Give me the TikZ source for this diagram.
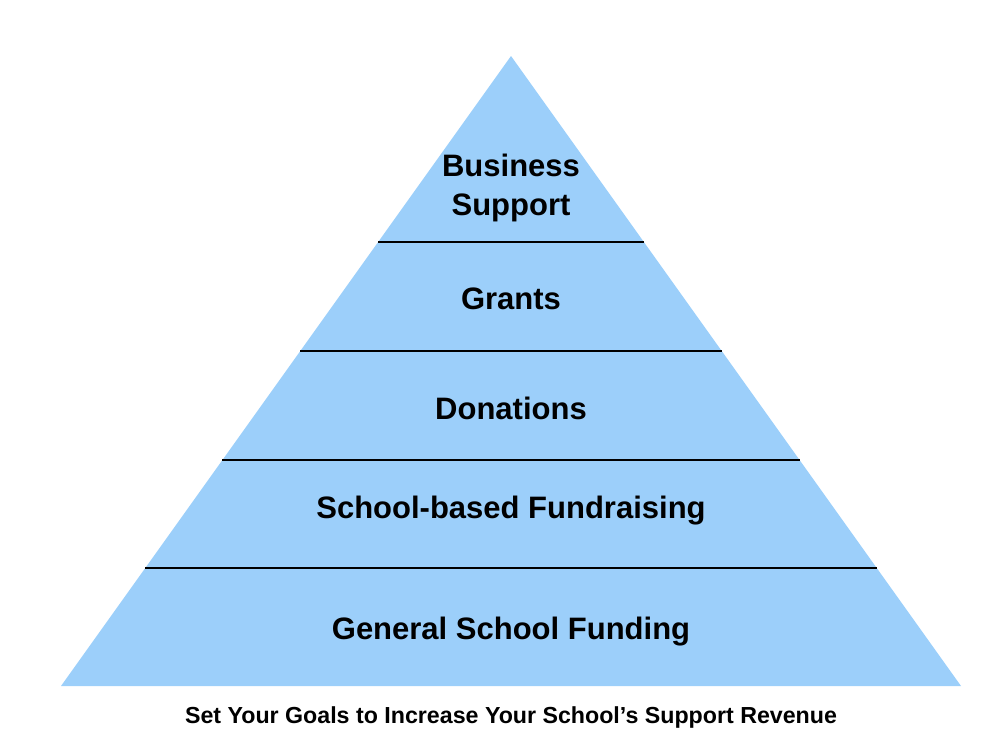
\documentclass[tikz,border=0pt]{standalone}
\usepackage{fontspec}
\setmainfont{Liberation Sans}
\definecolor{pyr}{HTML}{9CCFFA}
\begin{document}
\begin{tikzpicture}[x=1pt,y=-1pt,
  lbl/.style={font=\bfseries\fontsize{31}{39}\selectfont,align=center,inner sep=0pt},
  sep/.style={line width=2pt,black}]
\useasboundingbox (0,0) rectangle (1000,750);
\fill[pyr] (511,56) coordinate (apex) -- (961,686) coordinate (br) -- (61,686) coordinate (bl) -- cycle;
\foreach \y/\n in {242/a,351/b,460/c,568/d}{
  \pgfmathsetmacro{\dx}{(\y-56)*5/7}
  \coordinate (L\n) at ({511-\dx},\y);
  \coordinate (R\n) at ({511+\dx},\y);
  \draw[sep] (L\n) -- (R\n);
}
\node[lbl] (bus) at (511,188) {Business\\Support};
\node[lbl] (gra) at (511,299) {Grants};
\node[lbl] (don) at (511,408) {Donations};
\node[lbl] (sch) at (511,511) {School-based Fundraising};
\node[lbl] (gen) at (511,632) {General School Funding};
\node[font=\bfseries\fontsize{23.2}{28}\selectfont,inner sep=0pt] (cap) at (511,717) {Set Your Goals to Increase Your School’s Support Revenue};
\end{tikzpicture}
\end{document}
